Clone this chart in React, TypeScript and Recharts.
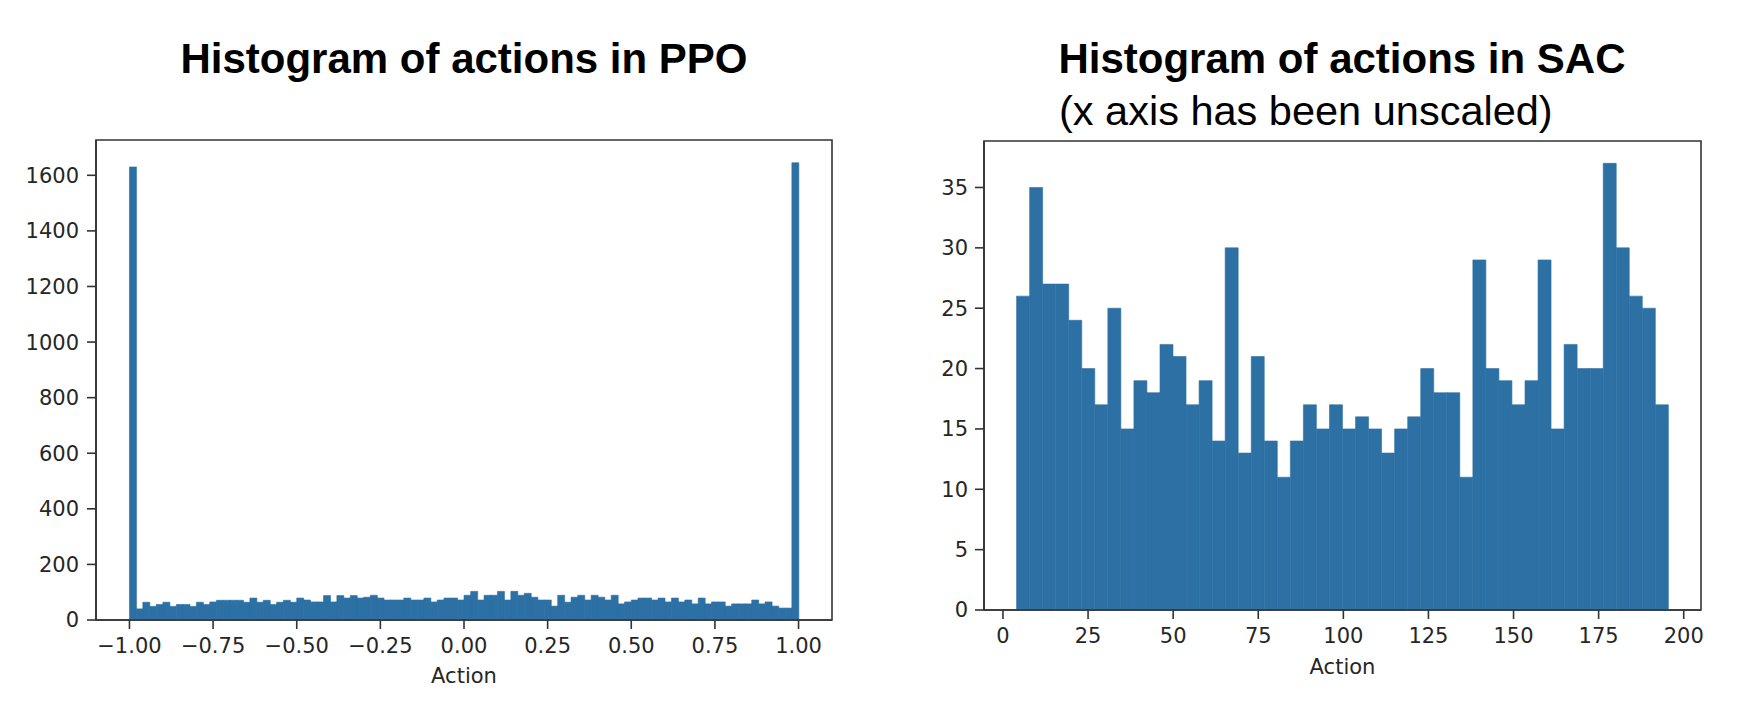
import React from 'react';
import { BarChart, Bar, XAxis, YAxis, ReferenceArea } from 'recharts';

// ---------- PPO histogram (100 bins from -1 to 1) ----------
const ppoCounts = [
  1630, 40, 64, 49, 56, 64, 49, 56, 56, 49,
  64, 56, 65, 71, 71, 71, 71, 64, 79, 64,
  71, 56, 64, 71, 64, 79, 72, 65, 65, 88,
  65, 88, 79, 88, 79, 82, 89, 79, 72, 72,
  72, 79, 72, 72, 79, 65, 72, 79, 79, 72,
  89, 103, 72, 89, 89, 103, 72, 103, 89, 96,
  82, 72, 72, 50, 89, 64, 82, 89, 72, 89,
  82, 72, 89, 58, 65, 72, 79, 79, 72, 79,
  65, 79, 65, 72, 58, 79, 58, 65, 65, 50,
  58, 58, 58, 72, 58, 65, 50, 43, 43, 1645,
];
const ppoBinStart = -1;
const ppoBinWidth = 0.02;
const ppoXTicks = [-1, -0.75, -0.5, -0.25, 0, 0.25, 0.5, 0.75, 1];
const ppoYTicks = [0, 200, 400, 600, 800, 1000, 1200, 1400, 1600];
const ppoXDomain = [-1.1, 1.1];
const ppoYDomain = [0, 1727];

// ---------- SAC histogram (50 bins) ----------
const sacCounts = [
  26, 35, 27, 27, 24, 20, 17, 25, 15, 19,
  18, 22, 21, 17, 19, 14, 30, 13, 21, 14,
  11, 14, 17, 15, 17, 15, 16, 15, 13, 15,
  16, 20, 18, 18, 11, 29, 20, 19, 17, 19,
  29, 15, 22, 20, 20, 37, 30, 26, 25, 17,
];
const sacBinStart = 4.0;
const sacBinWidth = 3.83;
const sacXTicks = [0, 25, 50, 75, 100, 125, 150, 175, 200];
const sacYTicks = [0, 5, 10, 15, 20, 25, 30, 35];
const sacXDomain = [-5.575, 205.075];
const sacYDomain = [0, 38.85];

const ppoData = ppoCounts.map((c, i) => ({ x: ppoBinStart + ppoBinWidth * (i + 0.5), count: c }));
const sacData = sacCounts.map((c, i) => ({ x: sacBinStart + sacBinWidth * (i + 0.5), count: c }));

const BAR = '#2c70a4';
const SPINE = '#333333';
const TXT = '#262626';
const tickFont = { fontFamily: 'DejaVu Sans', fontSize: 21, fill: TXT };
const fmtPPO = (v: number) => (v < 0 ? '\u2212' : '') + Math.abs(v).toFixed(2);
const fmtInt = (v: number) => String(Math.round(v));

export default function App() {
  return (
    <div style={{ position: 'absolute', left: 0, top: 0, width: 1742, height: 724, background: '#fff' }}>
      <div style={{ position: 'absolute', left: 0, top: 0 }}>
        <BarChart
          width={860}
          height={724}
          data={ppoData}
          margin={{ top: 140, right: 28, bottom: 0, left: 0 }}
          barCategoryGap={0}
          barGap={0}
        >
          <XAxis
            dataKey="x"
            type="number"
            domain={ppoXDomain}
            allowDataOverflow
            ticks={ppoXTicks}
            tickFormatter={fmtPPO}
            interval={0}
            height={104}
            tickSize={9}
            tickMargin={9}
            tick={tickFont}
            axisLine={{ stroke: SPINE, strokeWidth: 1.6 }}
            tickLine={{ stroke: SPINE, strokeWidth: 1.6 }}
            label={{ value: 'Action', position: 'insideBottom', offset: 41, style: { fontFamily: 'DejaVu Sans', fontSize: 21, fill: TXT } }}
          />
          <YAxis
            type="number"
            domain={ppoYDomain}
            allowDataOverflow
            ticks={ppoYTicks}
            interval={0}
            width={96}
            tickSize={9}
            tickMargin={8}
            tick={tickFont}
            axisLine={{ stroke: SPINE, strokeWidth: 1.6 }}
            tickLine={{ stroke: SPINE, strokeWidth: 1.6 }}
          />
          <Bar dataKey="count" fill={BAR} stroke={BAR} strokeWidth={0.6} isAnimationActive={false} />
          <ReferenceArea
            x1={ppoXDomain[0]}
            x2={ppoXDomain[1]}
            y1={ppoYDomain[0]}
            y2={ppoYDomain[1]}
            fill="none"
            fillOpacity={0}
            stroke={SPINE}
            strokeWidth={1.6}
            ifOverflow="visible"
          />
        </BarChart>
      </div>
      <div style={{ position: 'absolute', left: 860, top: 0 }}>
        <BarChart
          width={882}
          height={724}
          data={sacData}
          margin={{ top: 141, right: 41, bottom: 0, left: 0 }}
          barCategoryGap={0}
          barGap={0}
        >
          <XAxis
            dataKey="x"
            type="number"
            domain={sacXDomain}
            allowDataOverflow
            ticks={sacXTicks}
            tickFormatter={fmtInt}
            interval={0}
            height={114}
            tickSize={9}
            tickMargin={9}
            tick={tickFont}
            axisLine={{ stroke: SPINE, strokeWidth: 1.6 }}
            tickLine={{ stroke: SPINE, strokeWidth: 1.6 }}
            label={{ value: 'Action', position: 'insideBottom', offset: 50, style: { fontFamily: 'DejaVu Sans', fontSize: 21, fill: TXT } }}
          />
          <YAxis
            type="number"
            domain={sacYDomain}
            allowDataOverflow
            ticks={sacYTicks}
            tickFormatter={fmtInt}
            interval={0}
            width={124}
            tickSize={9}
            tickMargin={7}
            tick={tickFont}
            axisLine={{ stroke: SPINE, strokeWidth: 1.6 }}
            tickLine={{ stroke: SPINE, strokeWidth: 1.6 }}
          />
          <Bar dataKey="count" fill={BAR} stroke={BAR} strokeWidth={0.6} isAnimationActive={false} />
          <ReferenceArea
            x1={sacXDomain[0]}
            x2={sacXDomain[1]}
            y1={sacYDomain[0]}
            y2={sacYDomain[1]}
            fill="none"
            fillOpacity={0}
            stroke={SPINE}
            strokeWidth={1.6}
            ifOverflow="visible"
          />
        </BarChart>
      </div>
      <svg
        width={1742}
        height={724}
        style={{ position: 'absolute', left: 0, top: 0, pointerEvents: 'none' }}
      >
        <text x={464} y={73} textAnchor="middle" fontFamily="Liberation Sans" fontWeight="bold" fontSize={42} fill="#000">
          Histogram of actions in PPO
        </text>
        <text x={1342} y={73} textAnchor="middle" fontFamily="Liberation Sans" fontWeight="bold" fontSize={42} fill="#000">
          Histogram of actions in SAC
        </text>
        <text x={1059} y={125} textAnchor="start" fontFamily="Liberation Sans" fontSize={41.5} fill="#000">
          (x axis has been unscaled)
        </text>
      </svg>
    </div>
  );
}
